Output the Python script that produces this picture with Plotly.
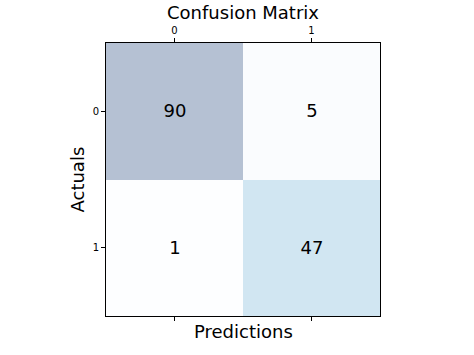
import plotly.graph_objects as go
import plotly.express as px

categories = ["0", "1"]
actual_labels = ["0", "1"]
matrix = [[90, 5],
          [1, 47]]

# Blues colormap blended with white at alpha 0.3 (matplotlib imshow alpha=0.3)
def blend(c, a=0.3):
    r, g, b = [int(v) for v in c.replace("rgb(", "").replace(")", "").split(",")]
    return "rgb(%d,%d,%d)" % (round(255*(1-a)+r*a), round(255*(1-a)+g*a), round(255*(1-a)+b*a))

blues = px.colors.sequential.Blues
n = len(blues)
colorscale = [[i/(n-1), blend(c)] for i, c in enumerate(blues)]

font = "DejaVu Sans"
fig = go.Figure(go.Heatmap(
    z=matrix, x=[0, 1], y=[0, 1],
    colorscale=colorscale, showscale=False,
    text=[[str(v) for v in row] for row in matrix],
    texttemplate="%{text}", textfont=dict(size=18, color="black", family=font),
    hoverinfo="skip", xgap=0, ygap=0,
))

fig.update_layout(
    width=474, height=355,
    margin=dict(l=106, r=94, t=43, b=39),
    paper_bgcolor="white", plot_bgcolor="white",
    font=dict(family=font, color="black"),
    title=dict(text="Confusion Matrix", x=243/474, xanchor="center",
               y=1-13/355, yanchor="middle", font=dict(size=18, family=font)),
    xaxis=dict(side="top", tickvals=[0, 1], ticktext=categories, range=[-0.5, 1.5],
               ticks="outside", ticklen=4, tickwidth=1, tickcolor="black",
               showline=True, linecolor="black", linewidth=1, mirror="ticks",
               showgrid=False, zeroline=False, tickfont=dict(size=10), constrain="domain"),
    yaxis=dict(tickvals=[0, 1], ticktext=actual_labels, range=[1.5, -0.5],
               ticks="outside", ticklen=4, tickwidth=1, tickcolor="black",
               showline=True, linecolor="black", linewidth=1, mirror=True,
               showgrid=False, zeroline=False, tickfont=dict(size=10)),
    annotations=[
        dict(text="Predictions", x=0.5, xref="paper", y=-15/273, yref="paper",
             xanchor="center", yanchor="middle", showarrow=False, font=dict(size=18)),
        dict(text="Actuals", x=-29/274, xref="paper", y=0.5, yref="paper",
             xanchor="center", yanchor="middle", textangle=-90, showarrow=False,
             font=dict(size=18)),
    ],
)

fig.write_html("out.html")
